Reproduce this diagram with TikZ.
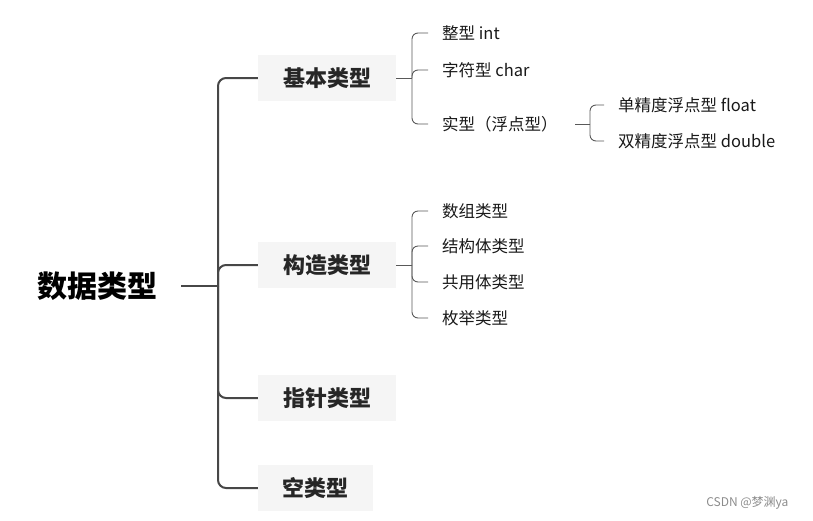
\documentclass[tikz,border=0pt]{standalone}
\usepackage{fontspec}
\setmainfont{Noto Sans CJK SC}
\begin{document}
\begin{tikzpicture}[x=1pt,y=-1pt,
  box/.style={fill=black!4,minimum height=46pt,font=\fontsize{22}{25}\selectfont\bfseries,text=black!85},
  leaf/.style={anchor=west,inner sep=0pt,font=\fontsize{16.5}{19}\selectfont,text=black!90},
  trunk/.style={draw=black!72,line width=2pt,rounded corners=8pt},
  twig/.style={draw=black!65,line width=0.9pt,rounded corners=6pt}]
\useasboundingbox (0,0) rectangle (813,520);
\node[font=\fontsize{30}{33}\selectfont\bfseries] (root) at (97,286) {数据类型};
\node[box,minimum width=138pt] (b1) at (327,78) {基本类型};
\node[box,minimum width=138pt] (b2) at (327,265) {构造类型};
\node[box,minimum width=138pt] (b3) at (327,398) {指针类型};
\node[box,minimum width=115pt] (b4) at (315.5,488) {空类型};
\coordinate (j) at (218,286);
\draw[trunk] (181,286) -- (j);
\foreach \b in {b1,b2,b3,b4} \draw[trunk] (j) |- (\b.west);
% basic
\node[leaf] (l1) at (442,33) {整型 int};
\node[leaf] (l2) at (442,70) {字符型 char};
\node[leaf] (l3) at (442,124) {实型（浮点型）};
\coordinate (k1) at (412,78);
\draw[twig] (b1.east) -- (k1);
\foreach \l in {l1,l2,l3} \draw[twig] (k1) |- ([xshift=-14pt]\l.west);
\node[leaf] (f1) at (618,105) {单精度浮点型 float};
\node[leaf] (f2) at (618,141) {双精度浮点型 double};
\coordinate (k2) at (590,124);
\draw[twig] (575,124) -- (k2);
\foreach \l in {f1,f2} \draw[twig] (k2) |- ([xshift=-14pt]\l.west);
% struct
\node[leaf] (s1) at (442,211) {数组类型};
\node[leaf] (s2) at (442,246) {结构体类型};
\node[leaf] (s3) at (442,282) {共用体类型};
\node[leaf] (s4) at (442,318) {枚举类型};
\coordinate (k3) at (412,265);
\draw[twig] (b2.east) -- (k3);
\foreach \l in {s1,s2,s3,s4} \draw[twig] (k3) |- ([xshift=-14pt]\l.west);
\node[anchor=east,font=\fontsize{12}{14}\selectfont,text=black!45] (wm) at (792,503) {CSDN @梦渊ya};
\end{tikzpicture}
\end{document}
